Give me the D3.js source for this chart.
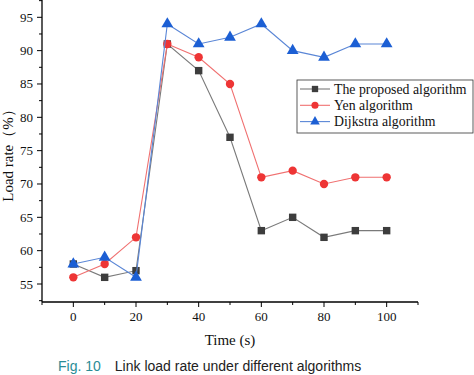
<!DOCTYPE html>
<html>
<head>
<meta charset="utf-8">
<script src="https://cdn.jsdelivr.net/npm/d3@7"></script>
<style>
  body { margin: 0; background: #fff; }
  svg { display: block; font-family: "Liberation Serif", "Times New Roman", serif; }
</style>
</head>
<body>
<div id="chart"></div>
<script>
const times = [0, 10, 20, 30, 40, 50, 60, 70, 80, 90, 100];
const proposed = [58, 56, 57, 91, 87, 77, 63, 65, 62, 63, 63];
const yen = [56, 58, 62, 91, 89, 85, 71, 72, 70, 71, 71];
const dijkstra = [58, 59, 56, 94, 91, 92, 94, 90, 89, 91, 91];
const xTicks = [0, 20, 40, 60, 80, 100];
const yTicks = [55, 60, 65, 70, 75, 80, 85, 90, 95];

const series = [
  {name: "The proposed algorithm", values: proposed, line: "#7a7a7a", fill: "#3d3d3d", shape: d3.symbolSquare},
  {name: "Yen algorithm", values: yen, line: "#f07070", fill: "#ee3535", shape: d3.symbolCircle},
  {name: "Dijkstra algorithm", values: dijkstra, line: "#5a86d6", fill: "#1c5fd4", shape: d3.symbolTriangle}
];

const width = 474, height = 375;
const svg = d3.select("#chart").append("svg")
    .attr("width", width)
    .attr("height", height);

const x = d3.scaleLinear().domain([-10, 110]).range([42, 418]);
const y = d3.scaleLinear().domain([55, 95]).range([284, 17.3]);
const yBottom = 302;

// axes
svg.append("line")
    .attr("x1", 42).attr("x2", 42)
    .attr("y1", 0).attr("y2", yBottom)
    .attr("stroke", "#000").attr("stroke-width", 1.3);
svg.append("line")
    .attr("x1", 42).attr("x2", 418)
    .attr("y1", yBottom).attr("y2", yBottom)
    .attr("stroke", "#000").attr("stroke-width", 1.3);

// x ticks (major + minor)
d3.range(-10, 111, 10).forEach(v => {
  const major = xTicks.includes(v);
  svg.append("line")
      .attr("x1", x(v)).attr("x2", x(v))
      .attr("y1", yBottom).attr("y2", yBottom + (major ? 5 : 3))
      .attr("stroke", "#000").attr("stroke-width", 1);
});
xTicks.forEach(v => {
  svg.append("text")
      .attr("x", x(v)).attr("y", yBottom + 19)
      .attr("text-anchor", "middle")
      .attr("font-size", 13)
      .attr("fill", "#111")
      .text(v);
});

// y ticks (major + minor)
d3.range(52.5, 97.6, 2.5).forEach(v => {
  const major = yTicks.includes(v);
  svg.append("line")
      .attr("x1", 42).attr("x2", 42 - (major ? 5 : 3))
      .attr("y1", y(v)).attr("y2", y(v))
      .attr("stroke", "#000").attr("stroke-width", 1);
});
yTicks.forEach(v => {
  svg.append("text")
      .attr("x", 33).attr("y", y(v) + 4.5)
      .attr("text-anchor", "end")
      .attr("font-size", 13)
      .attr("fill", "#111")
      .text(v);
});

// axis titles
svg.append("text")
    .attr("x", 230).attr("y", 345)
    .attr("text-anchor", "middle")
    .attr("font-size", 15)
    .attr("fill", "#111")
    .text("Time (s)");
svg.append("text")
    .attr("transform", "translate(13,152) rotate(-90)")
    .attr("text-anchor", "middle")
    .attr("font-size", 15)
    .attr("fill", "#111")
    .text("Load rate（%）");

// series
const line = d3.line().x((d, i) => x(times[i])).y(d => y(d));
series.forEach(s => {
  svg.append("path")
      .attr("d", line(s.values))
      .attr("fill", "none")
      .attr("stroke", s.line)
      .attr("stroke-width", 1.1);
  const sym = d3.symbol().type(s.shape).size(s.shape === d3.symbolTriangle ? 60 : 55);
  svg.selectAll(null).data(s.values).join("path")
      .attr("transform", (d, i) => `translate(${x(times[i])},${y(d)})`)
      .attr("d", sym)
      .attr("fill", s.fill);
});

// legend
const lg = svg.append("g");
lg.append("rect")
    .attr("x", 297).attr("y", 80)
    .attr("width", 176).attr("height", 53)
    .attr("fill", "#fff").attr("stroke", "#333").attr("stroke-width", 0.8);
series.forEach((s, i) => {
  const yy = 89 + i * 16.3;
  lg.append("line")
      .attr("x1", 300).attr("x2", 330)
      .attr("y1", yy).attr("y2", yy)
      .attr("stroke", s.line).attr("stroke-width", 1.1);
  lg.append("path")
      .attr("transform", `translate(315,${yy})`)
      .attr("d", d3.symbol().type(s.shape).size(40))
      .attr("fill", s.fill);
  lg.append("text")
      .attr("x", 334).attr("y", yy + 4.5)
      .attr("font-size", 13.8)
      .attr("fill", "#111")
      .text(s.name);
});

// caption at the bottom edge
const cap = svg.append("text")
    .attr("x", 58).attr("y", 371)
    .attr("font-size", 14)
    .attr("font-family", "Liberation Sans, Arial, sans-serif");
cap.append("tspan").attr("fill", "#2a8c96").text("Fig. 10");
cap.append("tspan").attr("fill", "#222").attr("dx", 14).text("Link load rate under different algorithms");
</script>
</body>
</html>
